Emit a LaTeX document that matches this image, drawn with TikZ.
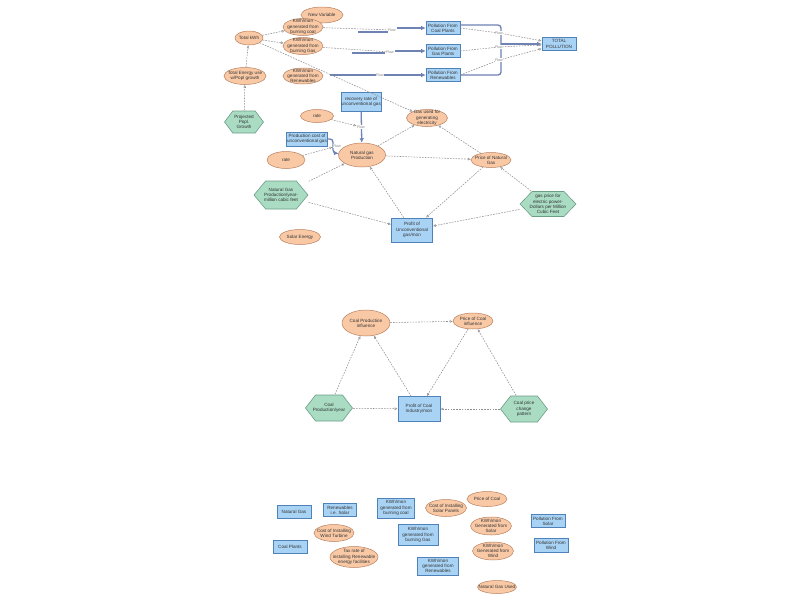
\documentclass[tikz,border=0pt]{standalone}
\usepackage{fontspec}
\setmainfont{Liberation Sans}
\usetikzlibrary{shapes.geometric,arrows.meta,calc}
\definecolor{elfill}{HTML}{F9C9A6}
\definecolor{elline}{HTML}{B9805E}
\definecolor{bxfill}{HTML}{A9D3F5}
\definecolor{bxline}{HTML}{4F82B8}
\definecolor{hxfill}{HTML}{A9DCC3}
\definecolor{hxline}{HTML}{6C9E86}
\definecolor{lnk}{HTML}{909090}
\definecolor{flw}{HTML}{6E82B4}
\definecolor{txtc}{HTML}{333333}
\tikzset{
  txt/.style={font=\fontsize{4.6}{5.2}\selectfont, text=txtc, align=center, inner sep=0pt},
  el/.style args={#1/#2}{ellipse, draw=elline, fill=elfill, line width=0.5pt, inner sep=0pt,
     minimum width=#1pt, minimum height=#2pt},
  bx/.style args={#1/#2}{rectangle, draw=bxline, fill=bxfill, line width=0.6pt, inner sep=0pt,
     minimum width=#1pt, minimum height=#2pt, txt},
  hx/.style args={#1/#2}{rectangle, inner sep=0pt, minimum width=#1pt, minimum height=#2pt, txt,
     path picture={\path[fill=hxfill, draw=hxline, line width=0.6pt]
       ($(path picture bounding box.west)+(0.5pt,0)$) --
       ($(path picture bounding box.north west)!0.22!(path picture bounding box.north east)+(0,-0.5pt)$) --
       ($(path picture bounding box.north west)!0.78!(path picture bounding box.north east)+(0,-0.5pt)$) --
       ($(path picture bounding box.east)+(-0.5pt,0)$) --
       ($(path picture bounding box.south west)!0.78!(path picture bounding box.south east)+(0,0.5pt)$) --
       ($(path picture bounding box.south west)!0.22!(path picture bounding box.south east)+(0,0.5pt)$) -- cycle;}},
  link/.style={draw=lnk, line width=0.55pt, dash pattern=on 1.6pt off 1.2pt,
     -{Latex[open, length=3pt, width=2.8pt, line width=0.45pt]}},
  linkplain/.style={draw=lnk, line width=0.55pt, dash pattern=on 1.6pt off 1.2pt},
  flowline/.style={draw=flw, line width=1.3pt},
  flowarrow/.style={draw=flw, line width=1.3pt, -{Latex[length=4.5pt, width=4.5pt]}},
  flbl/.style={font=\fontsize{3.6}{4}\selectfont, text=gray, fill=white, inner sep=0.4pt}
}
\begin{document}
\begin{tikzpicture}[x=1pt, y=-1pt]
\fill[white] (0,0) rectangle (800,600);
\useasboundingbox (0,0) rectangle (800,600);

% ---------- top section ----------
\node[el=42/16, label={[txt]center:{New Variable}}] (nv) at (322,15) {};
\node[el=40/17, label={[txt]center:{KWh/mon\\generated from\\burning coal}}] (kcoal) at (303,27) {};
\node[el=40/17, label={[txt]center:{KWh/mon\\generated from\\burning Gas}}] (kgas) at (303,46) {};
\node[el=40/16, label={[txt]center:{KWh/mon\\generated from\\Renewables}}] (kren) at (303,76) {};
\node[el=28/14, label={[txt]center:{Total kWh}}] (tk) at (249,38) {};
\node[el=42/17, label={[txt]center:{Total Energy use\\w/Popl growth}}] (teu) at (245,76) {};
\node[hx=40/23] (ppg) at (244,122) {Projected\\Popl.\\Growth};

\node[bx=34/13] (pcoal) at (443,28) {Pollution From\\Coal Plants};
\node[bx=34/13] (pgas) at (443,51) {Pollution From\\Gas Plants};
\node[bx=34/13] (pren) at (443,75) {Pollution From\\Renewables};
\node[bx=34/13] (tp) at (559,44) {TOTAL\\POLLUTION};

\node[bx=39/19] (rec) at (361,102) {recovery rate of\\unconventional gas};
\node[el=33/13, label={[txt]center:{rate}}] (rate1) at (317,116) {};
\node[bx=41/14] (pcost) at (307,139) {Production cost of\\unconventional gas};
\node[el=38/17, label={[txt]center:{rate}}] (rate2) at (286,160) {};
\node[el=47/24, label={[txt]center:{Natural gas\\Production}}] (ngp) at (362,155) {};
\node[el=41/17, label={[txt]center:{Gas used for\\generating\\electricity}}] (gue) at (427,118) {};
\node[el=40/15, label={[txt]center:{Price of Natural\\Gas}}] (png) at (491,160) {};
\node[hx=57/26] (gpe) at (548,204) {gas price for\\electric power-\\Dollars per Million\\Cubic Feet};
\node[hx=55/29] (ngy) at (281,195) {Natural Gas\\Production/year-\\million cabic feet};
\node[bx=41/24] (puc) at (412,230) {Profit of\\Unconventional\\gas/mon};
\node[el=41/15, label={[txt]center:{Solar Energy}}] (se) at (300,237) {};

% flows (top)
\coordinate (fc0) at (358,32); \coordinate (fc1) at (388,32); \coordinate (fc2) at (397,28);
\draw[flowline] (fc0) -- (fc1);
\draw[flowarrow] (fc2) -- (pcoal);
\coordinate (fg0) at (352,53); \coordinate (fg1) at (385,53); \coordinate (fg2) at (395,51);
\draw[flowline] (fg0) -- (fg1);
\draw[flowarrow] (fg2) -- (pgas);
\coordinate (fr0) at (330,75);
\draw[flowarrow] (fr0) -- (pren);
\node[flbl] (fl1) at (392,30) {Flow};
\node[flbl] (fl2) at (390,52) {Flow};
\node[flbl] (fl3) at (380,75) {Flow};

\coordinate (bt) at (501,25); \coordinate (bb) at (501,75); \coordinate (bm) at (501,44);
\draw[flowline, rounded corners=3pt] (pcoal.east |- bt) -- (bt) -- (bb) -- (pren.east |- bb);
\draw[flowarrow] (bm) -- (tp);

\draw[flowarrow] (rec) -- (ngp);
\node[flbl] (fl4) at (361,127) {Flow};
\coordinate (pc1) at (333,139); \coordinate (pc2) at (333,153);
\draw[flowarrow, rounded corners=3pt] (pcost.east) -- (pc1) -- (pc2) -- (ngp);
\node[flbl] (fl5) at (337,146) {Flow};

% links (top)
\draw[link] (tk) -- (kcoal);
\draw[link] (tk) -- (kgas);
\draw[link] (tk) -- (gue);
\draw[link] (teu) -- (tk);
\draw[link] (ppg) -- (teu);
\draw[linkplain] (kcoal) -- (fl1);
\draw[linkplain] (kgas) -- (fl2);
\coordinate (tf1) at (499,33); \coordinate (tf2) at (499,47); \coordinate (tf3) at (499,60);
\draw[link] (pcoal.east) -- (tf1) -- (tp);
\draw[link] (pgas.east) -- (tf2) -- (tp);
\draw[link] (pren.east) -- (tf3) -- (tp);
\node[flbl] (tl1) at (tf1) {Flow};
\node[flbl] (tl2) at (tf2) {Flow};
\node[flbl] (tl3) at (tf3) {Flow};
\draw[link] (rate1) -- (fl4);
\draw[link] (rate2) -- (fl5);
\draw[link] (ngp) -- (gue);
\draw[link] (png) -- (gue);
\draw[link] (ngp) -- (png);
\draw[link] (png) -- (puc);
\draw[link] (gpe) -- (png);
\draw[link] (gpe) -- (puc);
\draw[link] (ngy) -- (ngp);
\draw[link] (ngy) -- (puc);
\draw[link] (puc) -- (ngp);

% ---------- coal section ----------
\node[el=48/26, label={[txt]center:{Coal Production\\influence}}] (cpi) at (366,323) {};
\node[el=40/16, label={[txt]center:{Price of Coal\\influence}}] (pci) at (473,321) {};
\node[hx=48/27] (cpy) at (329,408) {Coal\\Production/year};
\node[bx=42/25] (pcoi) at (419,409) {Profit of Coal\\Industry/mon};
\node[hx=48/27] (cpc) at (524,409) {Coal price\\change\\pattern};
\draw[link] (cpi) -- (pci);
\draw[link] (cpy) -- (cpi);
\draw[link] (pcoi) -- (cpi);
\draw[link] (pci) -- (pcoi);
\draw[link] (cpc) -- (pci);
\draw[link] (cpy) -- (pcoi);
\draw[link] (cpc) -- (pcoi);

% ---------- bottom section ----------
\node[bx=34/13] (bng) at (294,512) {Natural Gas};
\node[bx=33/13] (brs) at (340,510) {Renewables\\i.e. Solar};
\node[bx=37/20] (bkc) at (396,508) {KWh/mon\\generated from\\burning coal};
\node[el=40/17, label={[txt]center:{Cost of Installing\\Wind Turbine}}] (bcw) at (334,533) {};
\node[bx=34/13] (bcp) at (290,547) {Coal Plants};
\node[bx=40/21] (bkg) at (418,535) {KWh/mon\\generated from\\burning Gas};
\node[el=48/21, label={[txt]center:{Tax rate of\\installing Renewable\\energy facilities}}] (btr) at (354,557) {};
\node[bx=41/18] (bkr) at (438,566) {KWh/mon\\generated from\\Renewables};
\node[el=41/17, label={[txt]center:{Cost of Installing\\Solar Panels}}] (bcs) at (446,508) {};
\node[el=40/15, label={[txt]center:{Price of Coal}}] (bpc) at (487,499) {};
\node[el=41/18, label={[txt]center:{KWh/mon\\Generated from\\Solar}}] (bks) at (491,526) {};
\node[el=41/18, label={[txt]center:{KWh/mon\\Generated from\\Wind}}] (bkw) at (493,551) {};
\node[el=39/13, label={[txt]center:{Natural Gas Used}}] (bngu) at (497,587) {};
\node[bx=34/13] (bps) at (548,521) {Pollution From\\Solar};
\node[bx=34/14] (bpw) at (551,545) {Pollution From\\Wind};
\end{tikzpicture}
\end{document}
